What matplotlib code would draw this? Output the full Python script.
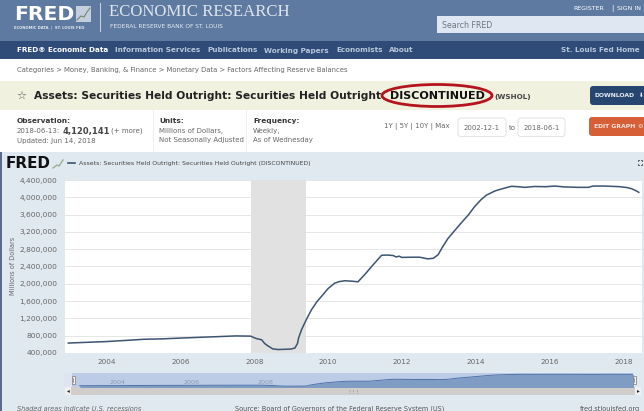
import matplotlib
matplotlib.use("Agg")
import matplotlib.pyplot as plt
from matplotlib.patches import Rectangle, Ellipse, FancyBboxPatch

years = [2002.96, 2003.5, 2004.0, 2004.5, 2005.0, 2005.5, 2006.0, 2006.5, 2007.0, 2007.5, 2007.9,
         2008.05, 2008.2, 2008.28, 2008.36, 2008.5, 2008.65, 2009.0, 2009.1, 2009.17, 2009.2, 2009.28,
         2009.42, 2009.55, 2009.7, 2009.82, 2010.0, 2010.18, 2010.3, 2010.45, 2010.65, 2010.81, 2011.0,
         2011.2, 2011.45, 2011.6, 2011.76, 2011.85, 2011.92, 2012.0, 2012.25, 2012.48, 2012.7, 2012.85,
         2012.98, 2013.1, 2013.25, 2013.42, 2013.6, 2013.8, 2013.97, 2014.15, 2014.29, 2014.52, 2014.75,
         2014.97, 2015.15, 2015.33, 2015.6, 2015.9, 2016.14, 2016.4, 2016.77, 2017.05, 2017.18, 2017.5,
         2017.9, 2018.1, 2018.22, 2018.35, 2018.42]
values = [630, 648, 665, 690, 717, 727, 745, 762, 778, 795, 790,
          735, 705, 620, 570, 495, 480, 492, 515, 620, 746, 940,
          1190, 1400, 1590, 1708, 1890, 2015, 2050, 2070, 2060, 2046, 2220,
          2420, 2660, 2665, 2654, 2620, 2640, 2610, 2615, 2615, 2577, 2590,
          2670, 2850, 3050, 3220, 3400, 3590, 3785, 3950, 4050, 4146, 4205,
          4254, 4245, 4230, 4250, 4245, 4260, 4240, 4230, 4230, 4260, 4260,
          4246, 4225, 4200, 4150, 4115]
y_ticks = [400, 800, 1200, 1600, 2000, 2400, 2800, 3200, 3600, 4000, 4400]
x_ticks = [2004, 2006, 2008, 2010, 2012, 2014, 2016, 2018]
navigator_labels = [2004, 2006, 2008]
recession = (2007.92, 2009.39)

W, H = 644, 411
FONT = "DejaVu Sans"
fig = plt.figure(figsize=(W / 100, H / 100), dpi=100, facecolor="white")

def box(x0, y0, x1, y1):
    return [x0 / W, 1 - y1 / H, (x1 - x0) / W, (y1 - y0) / H]

pg = fig.add_axes([0, 0, 1, 1], zorder=0)
pg.set_xlim(0, W); pg.set_ylim(H, 0); pg.axis("off")

def rect(x0, y0, x1, y1, c, **k):
    pg.add_patch(Rectangle((x0, y0), x1 - x0, y1 - y0, fc=c, ec="none", **k))

def txt(x, y, s, size=5.5, color="#555555", ha="left", weight="normal", family=FONT, **k):
    pg.text(x, y, s, fontsize=size, color=color, ha=ha, va="center", fontweight=weight, family=family, **k)

def pill(x0, y0, x1, y1, c, ec="none"):
    pg.add_patch(FancyBboxPatch((x0 + 3, y0 + 3), x1 - x0 - 6, y1 - y0 - 6,
                                boxstyle="round,pad=3", fc=c, ec=ec, lw=0.6))

# header
rect(0, 0, W, 41, "#5f7aa0")
rect(0, 41, W, 59, "#2f4c78")
txt(14, 14.5, "FRED", size=14.7, color="white", weight="bold")
rect(76, 6, 91, 22, "#c3cfdc")
pg.plot([77, 81, 84, 87, 90], [20, 16, 17, 12, 8], color="#6f8a6a", lw=0.8)
txt(14, 27, "ECONOMIC DATA  |  ST. LOUIS FED", size=2.7, color="#dfe6ef", weight="bold")
rect(100, 3, 101, 32, "#c9d3e2")
txt(109, 12.5, "ECONOMIC RESEARCH", size=12.1, color="#dde4ee", family="Liberation Serif")
txt(110, 26.5, "FEDERAL RESERVE BANK OF ST. LOUIS", size=4.2, color="#e6ebf2")
txt(573, 9, "REGISTER", size=4.5, color="white")
txt(611, 9, "|", size=4.7, color="white")
txt(617, 9, "SIGN IN", size=4.5, color="white")
rect(437, 16, W, 33.5, "#dfe8f2")
txt(442, 25, "Search FRED", size=5.7, color="#6b7480")
nav = [(17, "FRED® Economic Data", "white"), (115, "Information Services", "#b9c7da"),
       (207, "Publications", "#b9c7da"), (264, "Working Papers", "#b9c7da"),
       (336, "Economists", "#b9c7da"), (389, "About", "#b9c7da"), (561, "St. Louis Fed Home", "#b9c7da")]
for x, s, c in nav:
    txt(x, 50.5, s, size=5.2, color=c, weight="bold")

txt(17, 70, "Categories > Money, Banking, & Finance > Monetary Data > Factors Affecting Reserve Balances",
    size=4.95, color="#666666")

# title band
rect(0, 81, W, 110, "#f1f1e0")
txt(16, 96, "☆", size=8, color="#555555")
txt(34, 96, "Assets: Securities Held Outright: Securities Held Outright", size=7.68, color="#222222", weight="bold")
txt(390, 96, "DISCONTINUED", size=8.0, color="#111111", weight="bold")
txt(494, 97, "(WSHOL)", size=5.2, color="#444444", weight="bold")
pg.add_patch(Ellipse((437, 95.5), 110, 22, fc="none", ec="#b5141f", lw=2))
pill(590, 86, W + 8, 105, "#27466f")
txt(595, 95.5, "DOWNLOAD", size=4.4, color="#e8edf3", weight="bold")
txt(640.5, 95.5, "⬇", size=4, color="#e8edf3", ha="center", weight="bold")

# metadata
txt(17, 121, "Observation:", size=5.3, color="#333333", weight="bold")
txt(17, 131, "2018-06-13:", size=5, color="#666666")
txt(63, 131, "4,120,141", size=6, color="#444444", weight="bold")
txt(111, 131, "(+ more)", size=5, color="#666666")
txt(17, 141, "Updated: Jun 14, 2018", size=5, color="#666666")
rect(153, 110, 154, 152, "#eeeeee")
txt(159, 121, "Units:", size=5.3, color="#333333", weight="bold")
txt(159, 130.5, "Millions of Dollars,", size=5, color="#666666")
txt(159, 140, "Not Seasonally Adjusted", size=5, color="#666666")
rect(246, 110, 247, 152, "#eeeeee")
txt(253, 121, "Frequency:", size=5.3, color="#333333", weight="bold")
txt(253, 130.5, "Weekly,", size=5, color="#666666")
txt(253, 140, "As of Wednesday", size=5, color="#666666")
txt(384, 126, "1Y | 5Y | 10Y | Max", size=5, color="#666666")
for x0, x1, s in [(458, 506, "2002-12-1"), (518, 565, "2018-06-1")]:
    pill(x0, 118, x1, 136.5, "white", ec="#dddddd")
    txt((x0 + x1) / 2, 127.5, s, size=5, color="#666666", ha="center")
txt(512, 127.5, "to", size=5, color="#666666", ha="center")
pill(589, 117, W + 8, 136, "#d65f38")
txt(594, 126.5, "EDIT GRAPH", size=4.4, color="#f6e6df", weight="bold")
txt(640.5, 126.5, "⚙", size=4.5, color="#f6e6df", ha="center")

# chart panel
rect(0, 152, W, H, "#e1e9f0")
rect(0, 152, 2, H, "#5a6c88")
txt(6, 163.5, "FRED", size=10.9, color="#111111", weight="bold")
pg.plot([53, 57, 59, 63], [168, 165, 166, 160], color="#9aae90", lw=1)
pg.plot([68, 75], [163, 163], color="#3d5470", lw=1.2)
txt(79, 163.5, "Assets: Securities Held Outright: Securities Held Outright (DISCONTINUED)",
    size=4.42, color="#444444")
for cx, cy, dx, dy in [(638, 160, 1, 1), (642, 160, -1, 1), (638, 165, 1, -1), (642, 165, -1, -1)]:
    pg.plot([cx + dx, cx, cx], [cy, cy, cy + dy], color="#444444", lw=0.6)
pg.text(13, 266, "Millions of Dollars", fontsize=4.7, color="#666666", rotation=90, ha="center", va="center", family=FONT)
txt(17, 408.5, "Shaded areas indicate U.S. recessions", size=4.7, color="#666666", style="italic")
txt(235, 408.5, "Source: Board of Governors of the Federal Reserve System (US)", size=4.7, color="#555555")
txt(640, 408.5, "fred.stlouisfed.org", size=4.7, color="#555555", ha="right")

# main plot
def year_at(px):
    return 2004 + (px - 106.7) / 36.9

ax = fig.add_axes(box(65, 180, 642, 353), zorder=1)
ax.set_xlim(year_at(65), year_at(642))
ax.set_ylim(400, 4400)
ax.axvspan(*recession, color="#e1e1e1", lw=0, zorder=1)
ax.plot(years, values, color="#3d5470", lw=1.1, zorder=3)
ax.set_yticks(y_ticks)
ax.set_yticklabels([f"{v * 1000:,}" for v in y_ticks], fontsize=5.4, color="#666666", family=FONT)
ax.set_xticks(x_ticks)
ax.set_xticklabels([str(v) for v in x_ticks], fontsize=5.2, color="#666666", family=FONT)
ax.tick_params(axis="y", length=0, pad=5.5)
ax.tick_params(axis="x", length=0, pad=4.5)
ax.grid(axis="y", color="#e6e6e6", lw=0.7, zorder=0)
ax.set_axisbelow(True)
for s in ax.spines.values():
    s.set_visible(False)

# navigator
def nav_year(px):
    return 2004 + (px - 118) / 36.75

rect(64, 373, 72, 387, "#dfe5f0")
nv = fig.add_axes(box(72, 373, 633, 387), zorder=1)
nv.set_xlim(nav_year(72), nav_year(633))
nv.set_ylim(216, 4674)
nv.set_facecolor("#bccbe6")
nv.fill_between(years, values, 0, color="#7f9cc4", lw=0)
nv.plot(years, values, color="#4f72a6", lw=0.7)
for v in navigator_labels:
    nv.text(v, 1500, str(v), fontsize=4.6, color="#8b9ab5", ha="center", va="center", family=FONT)
nv.set_xticks([]); nv.set_yticks([])
for s in nv.spines.values():
    s.set_visible(False)
rect(65, 387, 635, 395, "#d0cdcb")
rect(65, 387, 71, 395, "#eef0f2")
rect(635, 387, 641, 395, "#eef0f2")
txt(68, 391, "◂", size=4, color="#222222", ha="center")
txt(638, 391, "▸", size=4, color="#222222", ha="center")
txt(353.5, 391, "⋮⋮⋮", size=3, color="#555555", ha="center")

# navigator handles sit above the mini chart
ov = fig.add_axes([0, 0, 1, 1], zorder=2)
ov.set_xlim(0, W); ov.set_ylim(H, 0); ov.axis("off")
for x in (73.5, 634.5):
    ov.add_patch(Rectangle((x - 1.8, 376), 3.6, 8, fc="#f2f2f2", ec="#777777", lw=0.5))
    ov.plot([x, x], [378, 382], color="#555555", lw=0.4)

fig.savefig("out.png", dpi=100)
